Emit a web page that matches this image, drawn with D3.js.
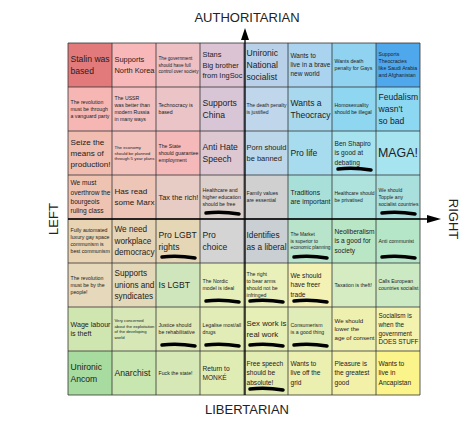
<!DOCTYPE html>
<html>
<head>
<meta charset="utf-8">
<script src="https://cdn.jsdelivr.net/npm/d3@7"></script>
<style>
body{margin:0;background:#fff;}
text{font-family:"Liberation Sans",Arial,sans-serif;fill:#222;}
</style>
</head>
<body>
<svg width="474" height="424"></svg>
<script>
// cell texts, row by row (top = authoritarian), "|" = line break, "~" small text, "^" medium text
const row0 = ["Stalin was|based","Supports|North Korea","~The government|should have full|control over society","Stans|Big brother|from IngSoc","Unironic|National|socialist","^Wants to|live in a brave|new world","~Wants death|penalty for Gays","~Supports|Theocracies|like Saudi Arabia|and Afghanistan"];
const row1 = ["~The revolution|must be through|a vanguard party","~The USSR|was better than|modern Russia|in many ways","~Technocracy is|based","Supports|China","~The death penalty|is justified","Wants a|Theocracy","~Homosexuality|should be illegal","Feudalism|wasn't|so bad"];
const row2 = ["Seize the|means of|production!","~The economy|should be planned|through 5 year plans","~The State|should guarantee|employment","Anti Hate|Speech","Porn should|be banned","Pro life","^Ben Shapiro|is good at|debating","MAGA!"];
const row3 = ["^We must|overthrow the|bourgeois|ruling class","Has read|some Marx","Tax the rich!","~Healthcare and|higher education|should be free","~Family values|are essential","Traditions|are important","~Healthcare should|be privatised","~We should|Topple any|socialist countries"];
const row4 = ["~Fully automated|luxury gay space|communism is|best communism","We need|workplace|democracy","Pro LGBT|rights","Pro|choice","Identifies|as a liberal","~The Market|is superior to|economic planning","Neoliberalism|is a good for|society","~Anti communist"];
const row5 = ["~The revolution|must be by the|people!","Supports|unions and|syndicates","Is LGBT","~The Nordic|model is ideal","~The right|to bear arms|should not be|infringed","^We should|have freer|trade","~Taxation is theft!","~Calls European|countries socialist"];
const row6 = ["Wage labour|is theft","~Very concerned|about the exploitation|of the developing|world","~Justice should|be rehabilitative","~Legalise most/all|drugs","Sex work is|real work","~Consumerism|is a good thing","^We should|lower the|age of consent","^Socialism is|when the|government|DOES STUFF"];
const row7 = ["Unironic|Ancom","Anarchist","~Fuck the state!","^Return to|MONKÉ","^Free speech|should be|absolute!","^Wants to|live off the|grid","^Pleasure is|the greatest|good","^Wants to|live in|Ancapistan"];
const rows = [row0,row1,row2,row3,row4,row5,row6,row7];

const colors = [
 ["#e27a7c","#f8b7b9","#eebfc3","#dcc3d3","#b9d1e8","#a9d3ee","#8fd3f0","#4fa8ec"],
 ["#f6b7b4","#f2c0c0","#ebc4c8","#d8c6d6","#c0d6ea","#a8d8ee","#8fd7f0","#8cd8f3"],
 ["#f0bdb0","#f2c2bd","#f6b9b9","#ddc8d2","#bcd7ea","#a6dced","#a7e2ef","#a6e4ef"],
 ["#efc3b1","#edc6b8","#e6ccc4","#dcd0cd","#d0d0d0","#a8dfd8","#ade3dc","#a9e0de"],
 ["#e8d4b3","#e6d4b6","#e5d6b6","#d4d4d4","#c9cfd2","#b7e4cb","#b9e6c5","#b5e6c7"],
 ["#e6d8bb","#e3d8b8","#cfe6bd","#e6eeba","#e9f0b9","#f3f2b4","#d5ecc2","#cbe9c3"],
 ["#cfe6b1","#d7e8b6","#dde8b6","#e2ecb6","#e6efb5","#e1edb8","#eef0b0","#f3f2ae"],
 ["#a8dba0","#c8e6b0","#d6e8b5","#dfedb5","#e2ecb3","#ebf0b1","#f3f1a8","#fbf48a"]];

// black scribbles under cells: [row, col]
const scribbles = [[3,3],[2,6],[3,7],[4,2],[4,5],[4,7],[5,3],[5,4],[5,5],[6,2],[6,3],[6,4],[6,5],[7,4]];

const svg = d3.select("svg");
const x = d3.scaleBand().domain(d3.range(8)).range([68,420]);
const y = d3.scaleBand().domain(d3.range(8)).range([43,395]);
const W = x.bandwidth(), H = y.bandwidth();

rows.forEach(function(row,r){
  row.forEach(function(txt,c){
    const g = svg.append("g").attr("transform","translate("+x(c)+","+y(r)+")");
    g.append("rect").attr("width",W).attr("height",H).attr("fill",colors[r][c]);
    const small = txt[0]=="~", med = txt[0]=="^";
    const lines = (small||med ? txt.slice(1) : txt).split("|");
    const big = (txt=="MAGA!");
    let fs = big ? 15 : (small ? 5.2 : med ? 6.6 : 8.6);
    const t = g.append("text").attr("font-size",fs);
    lines.forEach(function(l){
      t.append("tspan").attr("x",big?W/2:2.5).attr("text-anchor",big?"middle":"start").text(l);
    });
    // shrink to fit width
    const wmax = d3.max(t.selectAll("tspan").nodes(), n=>n.getComputedTextLength());
    if (wmax > W-4) { fs = fs*(W-4)/wmax; t.attr("font-size",fs); }
    const lh = fs*(small?1.35:1.4);
    t.selectAll("tspan").attr("y",(d,i)=>H/2 + (i-(lines.length-1)/2)*lh + fs*0.35);
  });
});

// grid lines
svg.selectAll("line.v").data(d3.range(9)).join("line")
  .attr("x1",d=>68+d*W).attr("x2",d=>68+d*W).attr("y1",43).attr("y2",395)
  .attr("stroke","#333").attr("stroke-width",0.8);
svg.selectAll("line.h").data(d3.range(9)).join("line")
  .attr("y1",d=>43+d*H).attr("y2",d=>43+d*H).attr("x1",68).attr("x2",420)
  .attr("stroke","#333").attr("stroke-width",0.8);

// scribbles
svg.selectAll("path.scr").data(scribbles).join("path")
  .attr("d",d=>{const x0=x(d[1])+6, yy=y(d[0])+H-6;
    return "M"+x0+","+yy+" Q"+(x0+W*0.35)+","+(yy-2)+" "+(x0+W*0.75)+","+(yy+1);})
  .attr("stroke","#000").attr("stroke-width",3.5).attr("fill","none").attr("stroke-linecap","round");

// axes
svg.append("line").attr("x1",245).attr("x2",245).attr("y1",395).attr("y2",36).attr("stroke","#000").attr("stroke-width",1.3);
svg.append("path").attr("d","M245,28 L241,40 L249,40 Z").attr("fill","#000");
svg.append("line").attr("x1",68).attr("x2",432).attr("y1",219).attr("y2",219).attr("stroke","#000").attr("stroke-width",1.3);
svg.append("path").attr("d","M441,219 L427,215 L427,223 Z").attr("fill","#000");

svg.append("text").attr("x",247).attr("y",22).attr("text-anchor","middle").attr("font-size",13).text("AUTHORITARIAN");
svg.append("text").attr("x",247).attr("y",414).attr("text-anchor","middle").attr("font-size",13).text("LIBERTARIAN");
svg.append("text").attr("transform","translate(58,219) rotate(-90)").attr("text-anchor","middle").attr("font-size",13).text("LEFT");
svg.append("text").attr("transform","translate(449,219) rotate(90)").attr("text-anchor","middle").attr("font-size",13).text("RIGHT");
</script>
</body>
</html>
